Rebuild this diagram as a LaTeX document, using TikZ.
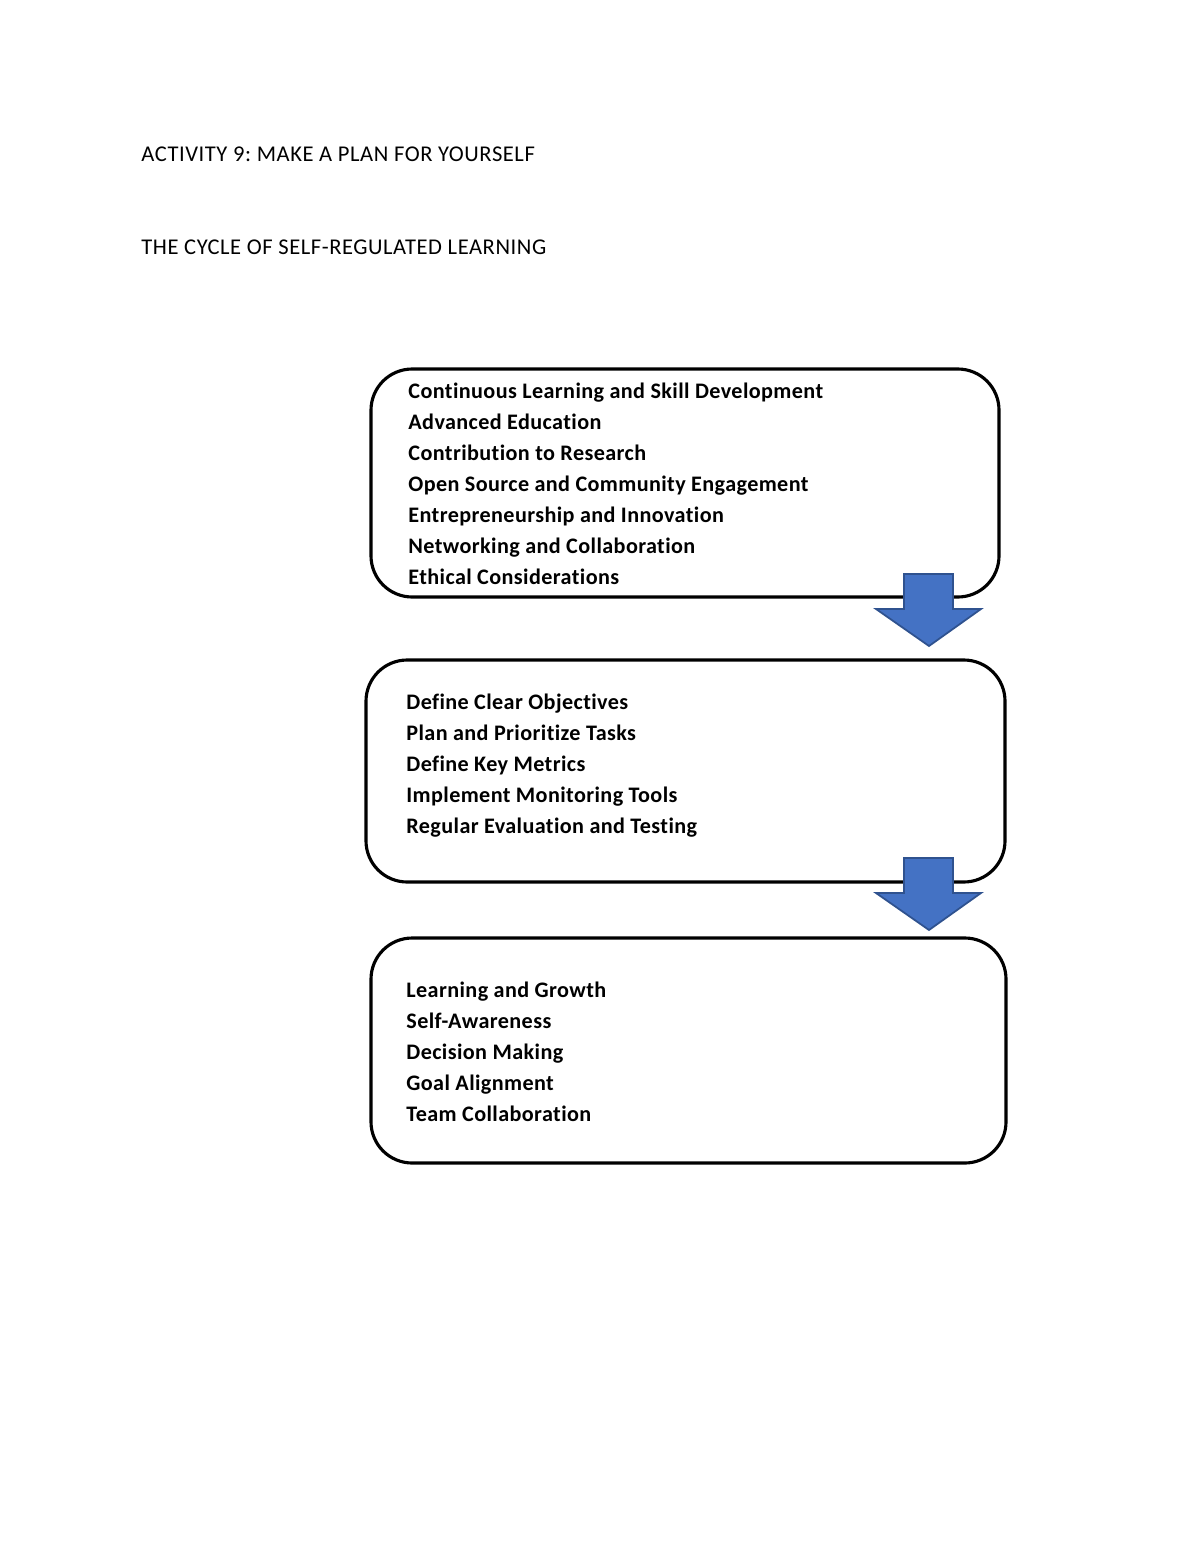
\documentclass[tikz,border=0pt]{standalone}
\usepackage{fontspec}
\setmainfont{Carlito}[Ligatures=NoCommon]
\newfontfamily\titlefont{Carlito}[Ligatures=NoCommon, LetterSpace=2.5]
\newfontfamily\itemfont{Carlito}[Ligatures=NoCommon, LetterSpace=1.8]
\definecolor{arrowfill}{HTML}{4472C4}
\definecolor{arrowline}{HTML}{2F528F}
\tikzset{
  box/.style={draw=black, line width=1.6pt, rounded corners=21pt},
  title/.style={anchor=base west, inner sep=0pt, font=\titlefont\fontsize{11.5pt}{13pt}\selectfont},
  item/.style={anchor=base west, inner sep=0pt, font=\itemfont\fontsize{11.3pt}{13pt}\selectfont\bfseries},
  blockarrow/.style={fill=arrowfill, draw=arrowline, line width=0.9pt, line join=miter}
}
\frenchspacing
\begin{document}
\begin{tikzpicture}[x=0.51pt, y=-0.51pt]
\useasboundingbox (0,0) rectangle (1200,1553);
% titles
\node[title] (t1) at (141,162) {ACTIVITY 9: MAKE A PLAN FOR YOURSELF};
\node[title] (t2) at (141,255) {THE CYCLE OF SELF-REGULATED LEARNING};
% boxes
\draw[box] (371,369) rectangle (999,597);
\coordinate (box1) at (685,483);
\draw[box] (366,660) rectangle (1005,882);
\coordinate (box2) at (685,771);
\draw[box] (371,938) rectangle (1006,1163);
\coordinate (box3) at (688,1050);
% box 1 text
\foreach \t [count=\i from 0] in {Continuous Learning and Skill Development, Advanced Education, Contribution to Research, Open Source and Community Engagement, Entrepreneurship and Innovation, Networking and Collaboration, Ethical Considerations}
  \node[item] (a\i) at (408,398+31*\i) {\t};
% box 2 text
\foreach \t [count=\i from 0] in {Define Clear Objectives, Plan and Prioritize Tasks, Define Key Metrics, Implement Monitoring Tools, Regular Evaluation and Testing}
  \node[item] (b\i) at (406,709+31*\i) {\t};
% box 3 text
\foreach \t [count=\i from 0] in {Learning and Growth, Self-Awareness, Decision Making, Goal Alignment, Team Collaboration}
  \node[item] (c\i) at (406,997+31*\i) {\t};
% block arrows
\draw[blockarrow] (904,574) -- (953,574) -- (953,609) -- (981,609) -- (929,646) -- (876,609) -- (904,609) -- cycle;
\draw[blockarrow] (904,858) -- (953,858) -- (953,893) -- (981,893) -- (929,930) -- (876,893) -- (904,893) -- cycle;
\end{tikzpicture}
\end{document}
